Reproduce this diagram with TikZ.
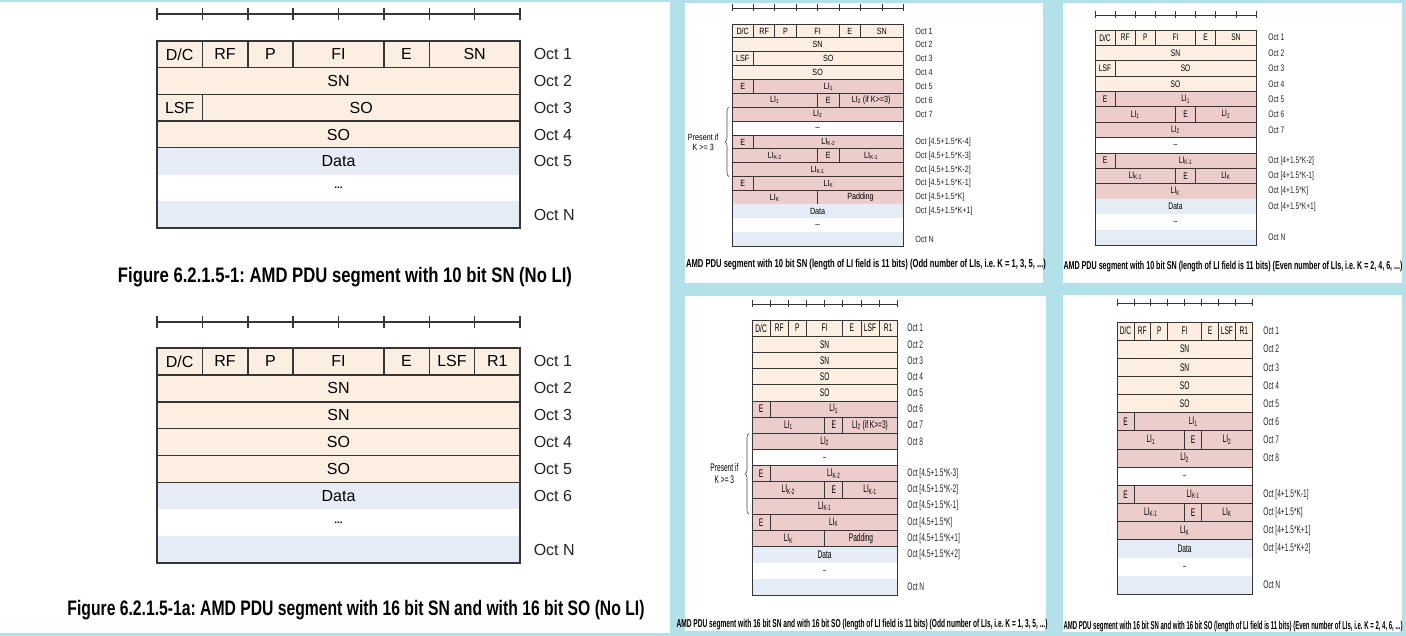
\documentclass[tikz,border=0pt]{standalone}
\usepackage{fontspec}
\setmainfont{Liberation Sans}
\newfontfamily\condA{Liberation Sans}[FakeStretch=0.8]
\newfontfamily\condB{Liberation Sans}[FakeStretch=0.7]
\newfontfamily\condC{Liberation Sans}[FakeStretch=0.6]
\usepackage{graphicx}
\usepackage{tikz}
\usetikzlibrary{decorations.pathreplacing}
\frenchspacing
\definecolor{hdrpeach}{HTML}{FDEEE2}
\definecolor{lipink}{HTML}{EDCCCC}
\definecolor{datblue}{HTML}{E5ECF6}
\definecolor{seacyan}{HTML}{B2E1EA}
\definecolor{tabline}{HTML}{353535}
\tikzset{
  field/.style={draw=tabline,inner sep=0pt,outer sep=0pt,anchor=north west},
  hdr/.style={field,fill=hdrpeach},
  li/.style={field,fill=lipink},
  gap/.style={field,fill=white},
  dat/.style={inner sep=0pt,outer sep=0pt,anchor=north west,fill=datblue},
  blank/.style={inner sep=0pt,outer sep=0pt,anchor=north west,fill=white},
  octlbl/.style={anchor=west,inner sep=0pt,text=black!85},
  frame/.style={draw=tabline},
  ruler/.style={draw=tabline},
  panel/.style={fill=white},
  capt/.style={inner sep=0pt,font=\bfseries},
  octbrace/.style={draw=black!70,line width=0.6,decorate,decoration={brace,amplitude=4pt}}
}
% table geometry: left x, top y, bit width, row height
\newcommand\panelat[4]{\def\tabx{#1}\def\taby{#2}\def\bitw{#3}\def\rowh{#4}}
% field: name, style, first bit, last bit, row, text
\newcommand\fld[6]{\node[#2,minimum width={(#4-#3)*\bitw},minimum height={\rowh}]
  (#1) at ({\tabx+#3*\bitw},{\taby+#5*\rowh}) {#6};}
\newcommand\oct[3]{\node[octlbl] (#1) at ({\octx},{\taby+(#2+0.5)*\rowh}) {#3};}
\newcommand\bitruler[2]{\draw[ruler] (\tabx,#1) -- ({\tabx+8*\bitw},#1);
  \foreach \i in {0,...,8} \draw[ruler] ({\tabx+\i*\bitw},#1-#2) -- ({\tabx+\i*\bitw},#1+#2);}
\newcommand\capfit[2]{\resizebox{#1}{\height}{#2}}
\newcommand\rowdots{{\fontsize{7}{7}\selectfont\bfseries...}}

\begin{document}
\begin{tikzpicture}[x=1pt,y=-1pt]
\useasboundingbox (0,0) rectangle (1406,636);
\fill[seacyan] (0,0) rectangle (1406,636);
\fill[panel] (0,2) rectangle (670,633);
\fill[panel] (685,3) rectangle (1043,283);
\fill[panel] (1063,3) rectangle (1402,283);
\fill[panel] (685,296) rectangle (1046,631);
\fill[panel] (1063,295) rectangle (1402,632);

% Figure 6.2.1.5-1
\begin{scope}[font=\fontsize{16}{18}\selectfont,line width=1.5]
\panelat{157}{41}{45.375}{26.75}\def\octx{533}
\bitruler{14}{6}
\fld{padc}{hdr}{0}{1}{0}{D/C}
\fld{parf}{hdr}{1}{2}{0}{RF}
\fld{pap}{hdr}{2}{3}{0}{P}
\fld{pafi}{hdr}{3}{5}{0}{FI}
\fld{pae}{hdr}{5}{6}{0}{E}
\fld{pasn}{hdr}{6}{8}{0}{SN}
\fld{pa1}{hdr}{0}{8}{1}{SN}
\fld{palsf}{hdr}{0}{1}{2}{LSF}
\fld{paso}{hdr}{1}{8}{2}{SO}
\fld{pa3}{hdr}{0}{8}{3}{SO}
\fld{padata}{dat}{0}{8}{4}{Data}
\fld{padots}{blank}{0}{8}{5}{{\fontsize{10}{10}\selectfont\bfseries...}}
\fld{paend}{dat}{0}{8}{6}{}
\draw[frame] (padc.north west) rectangle (paend.south east);
\oct{paoa}{0}{Oct 1}
\oct{paob}{1}{Oct 2}
\oct{paoc}{2}{Oct 3}
\oct{paod}{3}{Oct 4}
\oct{paoe}{4}{Oct 5}
\oct{paon}{6}{Oct N}
\end{scope}
\node[capt] (capa) at (345,277) {\fontsize{21}{24}\selectfont
  \capfit{454pt}{Figure 6.2.1.5-1: AMD PDU segment with 10 bit SN (No LI)}};

% Figure 6.2.1.5-1a
\begin{scope}[font=\fontsize{16}{18}\selectfont,line width=1.5]
\panelat{157}{348}{45.375}{26.9}\def\octx{533}
\bitruler{322}{6}
\fld{pbdc}{hdr}{0}{1}{0}{D/C}
\fld{pbrf}{hdr}{1}{2}{0}{RF}
\fld{pbp}{hdr}{2}{3}{0}{P}
\fld{pbfi}{hdr}{3}{5}{0}{FI}
\fld{pbe}{hdr}{5}{6}{0}{E}
\fld{pblsf}{hdr}{6}{7}{0}{LSF}
\fld{pbr}{hdr}{7}{8}{0}{R1}
\fld{pb1}{hdr}{0}{8}{1}{SN}
\fld{pb2}{hdr}{0}{8}{2}{SN}
\fld{pb3}{hdr}{0}{8}{3}{SO}
\fld{pb4}{hdr}{0}{8}{4}{SO}
\fld{pbdata}{dat}{0}{8}{5}{Data}
\fld{pbdots}{blank}{0}{8}{6}{{\fontsize{10}{10}\selectfont\bfseries...}}
\fld{pbend}{dat}{0}{8}{7}{}
\draw[frame] (pbdc.north west) rectangle (pbend.south east);
\oct{pboa}{0}{Oct 1}
\oct{pbob}{1}{Oct 2}
\oct{pboc}{2}{Oct 3}
\oct{pbod}{3}{Oct 4}
\oct{pboe}{4}{Oct 5}
\oct{pbof}{5}{Oct 6}
\oct{pbon}{7}{Oct N}
\end{scope}
\node[capt] (capb) at (356,610) {\fontsize{21}{24}\selectfont
  \capfit{577pt}{Figure 6.2.1.5-1a: AMD PDU segment with 16 bit SN and with 16 bit SO (No LI)}};

% 10 bit SN, odd number of LIs
\begin{scope}[font=\condA\fontsize{9}{10}\selectfont,line width=0.75]
\panelat{732}{24}{21.41}{13.875}\def\octx{915}
\bitruler{8}{3.5}
\fld{tadc}{hdr}{0}{1}{0}{D/C}
\fld{tarf}{hdr}{1}{2}{0}{RF}
\fld{tap}{hdr}{2}{3}{0}{P}
\fld{tafi}{hdr}{3}{5}{0}{FI}
\fld{tae}{hdr}{5}{6}{0}{E}
\fld{tasn}{hdr}{6}{8}{0}{SN}
\fld{ta1}{hdr}{0}{8}{1}{SN}
\fld{talsf}{hdr}{0}{1}{2}{LSF}
\fld{taso}{hdr}{1}{8}{2}{SO}
\fld{ta3}{hdr}{0}{8}{3}{SO}
\fld{ta4e}{li}{0}{1}{4}{E}
\fld{ta4}{li}{1}{8}{4}{LI\textsubscript{1}}
\fld{ta5a}{li}{0}{4}{5}{LI\textsubscript{1}}
\fld{ta5e}{li}{4}{5}{5}{E}
\fld{ta5b}{li}{5}{8}{5}{LI\textsubscript{2} (if K>=3)}
\fld{ta6}{li}{0}{8}{6}{LI\textsubscript{2}}
\fld{ta7}{gap}{0}{8}{7}{\rowdots}
\fld{ta8e}{li}{0}{1}{8}{E}
\fld{ta8}{li}{1}{8}{8}{LI\textsubscript{K-2}}
\fld{ta9a}{li}{0}{4}{9}{LI\textsubscript{K-2}}
\fld{ta9e}{li}{4}{5}{9}{E}
\fld{ta9b}{li}{5}{8}{9}{LI\textsubscript{K-1}}
\fld{ta10}{li}{0}{8}{10}{LI\textsubscript{K-1}}
\fld{ta11e}{li}{0}{1}{11}{E}
\fld{ta11}{li}{1}{8}{11}{LI\textsubscript{K}}
\fld{ta12a}{li}{0}{4}{12}{LI\textsubscript{K}}
\fld{ta12b}{li}{4}{8}{12}{Padding}
\fld{tadata}{dat}{0}{8}{13}{Data}
\fld{tadots}{blank}{0}{8}{14}{\rowdots}
\fld{taend}{dat}{0}{8}{15}{}
\draw[frame] (tadc.north west) rectangle (taend.south east);
\draw[octbrace] ([xshift=-3pt]ta10.south west) -- node[left=7pt,align=center] (tapres) {Present if\\K >= 3} ([xshift=-3pt]ta6.north west);
\oct{taoa}{0}{Oct 1}
\oct{taob}{1}{Oct 2}
\oct{taoc}{2}{Oct 3}
\oct{taod}{3}{Oct 4}
\oct{taoe}{4}{Oct 5}
\oct{taof}{5}{Oct 6}
\oct{taog}{6}{Oct 7}
\oct{tak4}{8}{Oct [4.5+1.5*K-4]}
\oct{tak3}{9}{Oct [4.5+1.5*K-3]}
\oct{tak2}{10}{Oct [4.5+1.5*K-2]}
\oct{tak1}{11}{Oct [4.5+1.5*K-1]}
\oct{tak0}{12}{Oct [4.5+1.5*K]}
\oct{takp}{13}{Oct [4.5+1.5*K+1]}
\oct{taon}{15}{Oct N}
\end{scope}
\node[capt] (capc) at (866,265) {\fontsize{11.5}{13}\selectfont
  \capfit{360pt}{AMD PDU segment with 10 bit SN (length of LI field is 11 bits) (Odd number of LIs, i.e. K = 1, 3, 5, ...)}};

% 10 bit SN, even number of LIs
\begin{scope}[font=\condB\fontsize{9.5}{10}\selectfont,line width=0.75]
\panelat{1095}{30}{20.125}{15.36}\def\octx{1268}
\bitruler{15}{3.5}
\fld{tbdc}{hdr}{0}{1}{0}{D/C}
\fld{tbrf}{hdr}{1}{2}{0}{RF}
\fld{tbp}{hdr}{2}{3}{0}{P}
\fld{tbfi}{hdr}{3}{5}{0}{FI}
\fld{tbe}{hdr}{5}{6}{0}{E}
\fld{tbsn}{hdr}{6}{8}{0}{SN}
\fld{tb1}{hdr}{0}{8}{1}{SN}
\fld{tblsf}{hdr}{0}{1}{2}{LSF}
\fld{tbso}{hdr}{1}{8}{2}{SO}
\fld{tb3}{hdr}{0}{8}{3}{SO}
\fld{tb4e}{li}{0}{1}{4}{E}
\fld{tb4}{li}{1}{8}{4}{LI\textsubscript{1}}
\fld{tb5a}{li}{0}{4}{5}{LI\textsubscript{1}}
\fld{tb5e}{li}{4}{5}{5}{E}
\fld{tb5b}{li}{5}{8}{5}{LI\textsubscript{2}}
\fld{tb6}{li}{0}{8}{6}{LI\textsubscript{2}}
\fld{tb7}{gap}{0}{8}{7}{\rowdots}
\fld{tb8e}{li}{0}{1}{8}{E}
\fld{tb8}{li}{1}{8}{8}{LI\textsubscript{K-1}}
\fld{tb9a}{li}{0}{4}{9}{LI\textsubscript{K-1}}
\fld{tb9e}{li}{4}{5}{9}{E}
\fld{tb9b}{li}{5}{8}{9}{LI\textsubscript{K}}
\fld{tb10}{li}{0}{8}{10}{LI\textsubscript{K}}
\fld{tbdata}{dat}{0}{8}{11}{Data}
\fld{tbdots}{blank}{0}{8}{12}{\rowdots}
\fld{tbend}{dat}{0}{8}{13}{}
\draw[frame] (tbdc.north west) rectangle (tbend.south east);
\oct{tboa}{0}{Oct 1}
\oct{tbob}{1}{Oct 2}
\oct{tboc}{2}{Oct 3}
\oct{tbod}{3}{Oct 4}
\oct{tboe}{4}{Oct 5}
\oct{tbof}{5}{Oct 6}
\oct{tbog}{6}{Oct 7}
\oct{tbk2}{8}{Oct [4+1.5*K-2]}
\oct{tbk1}{9}{Oct [4+1.5*K-1]}
\oct{tbk0}{10}{Oct [4+1.5*K]}
\oct{tbkp}{11}{Oct [4+1.5*K+1]}
\oct{tbon}{13}{Oct N}
\end{scope}
\node[capt] (capd) at (1233,267) {\fontsize{11.5}{13}\selectfont
  \capfit{339pt}{AMD PDU segment with 10 bit SN (length of LI field is 11 bits) (Even number of LIs, i.e. K = 2, 4, 6, ...)}};

% 16 bit SN and SO, odd number of LIs
\begin{scope}[font=\condC\fontsize{11}{12}\selectfont,line width=0.75]
\panelat{752}{320}{18.16}{16.18}\def\octx{907}
\bitruler{304}{3.5}
\fld{badc}{hdr}{0}{1}{0}{D/C}
\fld{barf}{hdr}{1}{2}{0}{RF}
\fld{bap}{hdr}{2}{3}{0}{P}
\fld{bafi}{hdr}{3}{5}{0}{FI}
\fld{bae}{hdr}{5}{6}{0}{E}
\fld{balsf}{hdr}{6}{7}{0}{LSF}
\fld{bar}{hdr}{7}{8}{0}{R1}
\fld{ba1}{hdr}{0}{8}{1}{SN}
\fld{ba2}{hdr}{0}{8}{2}{SN}
\fld{ba3}{hdr}{0}{8}{3}{SO}
\fld{ba4}{hdr}{0}{8}{4}{SO}
\fld{ba5e}{li}{0}{1}{5}{E}
\fld{ba5}{li}{1}{8}{5}{LI\textsubscript{1}}
\fld{ba6a}{li}{0}{4}{6}{LI\textsubscript{1}}
\fld{ba6e}{li}{4}{5}{6}{E}
\fld{ba6b}{li}{5}{8}{6}{LI\textsubscript{2} (if K>=3)}
\fld{ba7}{li}{0}{8}{7}{LI\textsubscript{2}}
\fld{ba8}{gap}{0}{8}{8}{\rowdots}
\fld{ba9e}{li}{0}{1}{9}{E}
\fld{ba9}{li}{1}{8}{9}{LI\textsubscript{K-2}}
\fld{ba10a}{li}{0}{4}{10}{LI\textsubscript{K-2}}
\fld{ba10e}{li}{4}{5}{10}{E}
\fld{ba10b}{li}{5}{8}{10}{LI\textsubscript{K-1}}
\fld{ba11}{li}{0}{8}{11}{LI\textsubscript{K-1}}
\fld{ba12e}{li}{0}{1}{12}{E}
\fld{ba12}{li}{1}{8}{12}{LI\textsubscript{K}}
\fld{ba13a}{li}{0}{4}{13}{LI\textsubscript{K}}
\fld{ba13b}{li}{4}{8}{13}{Padding}
\fld{badata}{dat}{0}{8}{14}{Data}
\fld{badots}{blank}{0}{8}{15}{\rowdots}
\fld{baend}{dat}{0}{8}{16}{}
\draw[frame] (badc.north west) rectangle (baend.south east);
\draw[octbrace] ([xshift=-3pt]ba11.south west) -- node[left=7pt,align=center] (bapres) {Present if\\K >= 3} ([xshift=-3pt]ba7.north west);
\oct{baoa}{0}{Oct 1}
\oct{baob}{1}{Oct 2}
\oct{baoc}{2}{Oct 3}
\oct{baod}{3}{Oct 4}
\oct{baoe}{4}{Oct 5}
\oct{baof}{5}{Oct 6}
\oct{baog}{6}{Oct 7}
\oct{baoh}{7}{Oct 8}
\oct{bak3}{9}{Oct [4.5+1.5*K-3]}
\oct{bak2}{10}{Oct [4.5+1.5*K-2]}
\oct{bak1}{11}{Oct [4.5+1.5*K-1]}
\oct{bak0}{12}{Oct [4.5+1.5*K]}
\oct{bakp}{13}{Oct [4.5+1.5*K+1]}
\oct{bakq}{14}{Oct [4.5+1.5*K+2]}
\oct{baon}{16}{Oct N}
\end{scope}
\node[capt] (cape) at (862,625) {\fontsize{11.5}{13}\selectfont
  \capfit{371pt}{AMD PDU segment with 16 bit SN and with 16 bit SO (length of LI field is 11 bits) (Odd number of LIs, i.e. K = 1, 3, 5, ...)}};

% 16 bit SN and SO, even number of LIs
\begin{scope}[font=\condC\fontsize{11}{12}\selectfont,line width=0.75]
\panelat{1117}{322}{16.91}{18.13}\def\octx{1263}
\bitruler{303}{3.5}
\fld{bbdc}{hdr}{0}{1}{0}{D/C}
\fld{bbrf}{hdr}{1}{2}{0}{RF}
\fld{bbp}{hdr}{2}{3}{0}{P}
\fld{bbfi}{hdr}{3}{5}{0}{FI}
\fld{bbe}{hdr}{5}{6}{0}{E}
\fld{bblsf}{hdr}{6}{7}{0}{LSF}
\fld{bbr}{hdr}{7}{8}{0}{R1}
\fld{bb1}{hdr}{0}{8}{1}{SN}
\fld{bb2}{hdr}{0}{8}{2}{SN}
\fld{bb3}{hdr}{0}{8}{3}{SO}
\fld{bb4}{hdr}{0}{8}{4}{SO}
\fld{bb5e}{li}{0}{1}{5}{E}
\fld{bb5}{li}{1}{8}{5}{LI\textsubscript{1}}
\fld{bb6a}{li}{0}{4}{6}{LI\textsubscript{1}}
\fld{bb6e}{li}{4}{5}{6}{E}
\fld{bb6b}{li}{5}{8}{6}{LI\textsubscript{2}}
\fld{bb7}{li}{0}{8}{7}{LI\textsubscript{2}}
\fld{bb8}{gap}{0}{8}{8}{\rowdots}
\fld{bb9e}{li}{0}{1}{9}{E}
\fld{bb9}{li}{1}{8}{9}{LI\textsubscript{K-1}}
\fld{bb10a}{li}{0}{4}{10}{LI\textsubscript{K-1}}
\fld{bb10e}{li}{4}{5}{10}{E}
\fld{bb10b}{li}{5}{8}{10}{LI\textsubscript{K}}
\fld{bb11}{li}{0}{8}{11}{LI\textsubscript{K}}
\fld{bbdata}{dat}{0}{8}{12}{Data}
\fld{bbdots}{blank}{0}{8}{13}{\rowdots}
\fld{bbend}{dat}{0}{8}{14}{}
\draw[frame] (bbdc.north west) rectangle (bbend.south east);
\oct{bboa}{0}{Oct 1}
\oct{bbob}{1}{Oct 2}
\oct{bboc}{2}{Oct 3}
\oct{bbod}{3}{Oct 4}
\oct{bboe}{4}{Oct 5}
\oct{bbof}{5}{Oct 6}
\oct{bbog}{6}{Oct 7}
\oct{bboh}{7}{Oct 8}
\oct{bbk1}{9}{Oct [4+1.5*K-1]}
\oct{bbk0}{10}{Oct [4+1.5*K]}
\oct{bbkp}{11}{Oct [4+1.5*K+1]}
\oct{bbkq}{12}{Oct [4+1.5*K+2]}
\oct{bbon}{14}{Oct N}
\end{scope}
\node[capt] (capf) at (1233,627) {\fontsize{11.5}{13}\selectfont
  \capfit{339pt}{AMD PDU segment with 16 bit SN and with 16 bit SO (length of LI field is 11 bits) (Even number of LIs, i.e. K = 2, 4, 6, ...)}};
\end{tikzpicture}
\end{document}
